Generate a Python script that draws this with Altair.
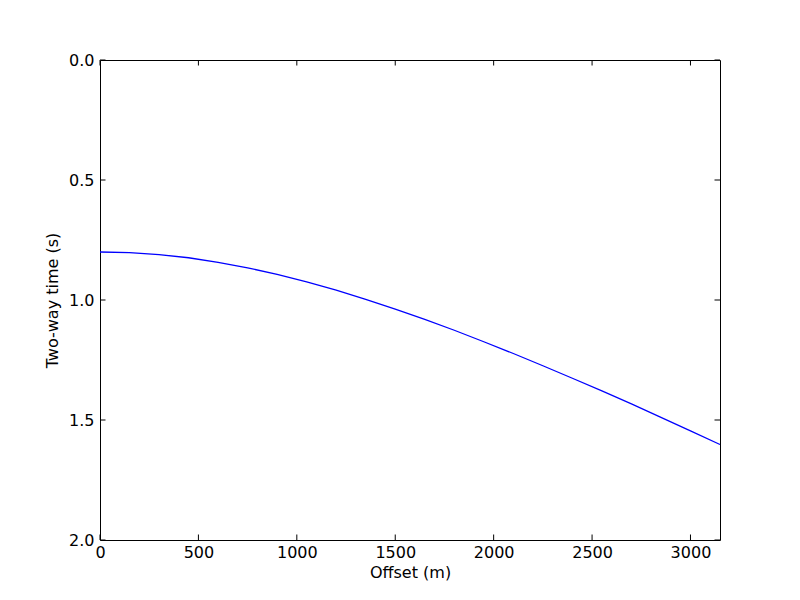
import altair as alt
import pandas as pd

# 오프셋 (m) 과 왕복 주시 (s) - 그림에서 읽은 값
offset_m = [0, 150, 300, 450, 600, 750, 900, 1050, 1200, 1350, 1500,
            1650, 1800, 1950, 2100, 2250, 2400, 2550, 2700, 2850, 3000, 3150]
twt_s = [0.800, 0.803, 0.811, 0.824, 0.843, 0.866, 0.893, 0.924, 0.959,
         0.997, 1.038, 1.081, 1.126, 1.174, 1.223, 1.274, 1.326, 1.379,
         1.433, 1.489, 1.545, 1.602]

x_ticks = [0, 500, 1000, 1500, 2000, 2500, 3000]
y_ticks = [0.0, 0.5, 1.0, 1.5, 2.0]

W, H = 620, 480
TICK = 5.5
FONT = "DejaVu Sans"

df = pd.DataFrame({"offset": offset_m, "twt": twt_s})
xt = pd.DataFrame({"offset": x_ticks})
yt = pd.DataFrame({"twt": y_ticks})

x_scale = alt.Scale(domain=[0, 3150], nice=False, zero=False)
y_scale = alt.Scale(domain=[0, 2], reverse=True, nice=False)

x_axis = alt.Axis(values=x_ticks, format="d", ticks=False, domain=False, grid=False,
                  labelFont=FONT, labelFontSize=16, labelColor="black", labelPadding=4,
                  labelFlush=False, labelOverlap=False,
                  title="Offset (m)", titleFont=FONT, titleFontSize=16,
                  titleFontWeight="normal", titleColor="black", titlePadding=4)
y_axis = alt.Axis(values=y_ticks, format=".1f", ticks=False, domain=False, grid=False,
                  labelFont=FONT, labelFontSize=16, labelColor="black", labelPadding=6,
                  labelFlush=False, labelOverlap=False,
                  title="Two-way time (s)", titleFont=FONT, titleFontSize=16,
                  titleFontWeight="normal", titleColor="black", titlePadding=8)

X = alt.X("offset:Q", scale=x_scale, axis=x_axis)
Y = alt.Y("twt:Q", scale=y_scale, axis=y_axis)

# 곡선
line = alt.Chart(df).mark_line(color="#0000ff", strokeWidth=1.3).encode(x=X, y=Y)

# 안쪽 눈금 (위/아래/왼쪽/오른쪽)
tick_style = dict(color="black", strokeWidth=1)
bottom = alt.Chart(xt).mark_rule(**tick_style).encode(
    x=X, y=alt.value(H), y2=alt.value(H - TICK))
top = alt.Chart(xt).mark_rule(**tick_style).encode(
    x=X, y=alt.value(0), y2=alt.value(TICK))
left = alt.Chart(yt).mark_rule(**tick_style).encode(
    y=Y, x=alt.value(0), x2=alt.value(TICK))
right = alt.Chart(yt).mark_rule(**tick_style).encode(
    y=Y, x=alt.value(W), x2=alt.value(W - TICK))

chart = alt.layer(line, bottom, top, left, right).properties(
    width=W, height=H,
    autosize=alt.AutoSizeParams(type="none"),
    padding={"left": 92, "top": 52, "right": 72, "bottom": 52},
    background="white",
).configure_view(stroke="black", strokeWidth=1)

chart.save("out.html", embed_options={"renderer": "svg", "actions": False})
